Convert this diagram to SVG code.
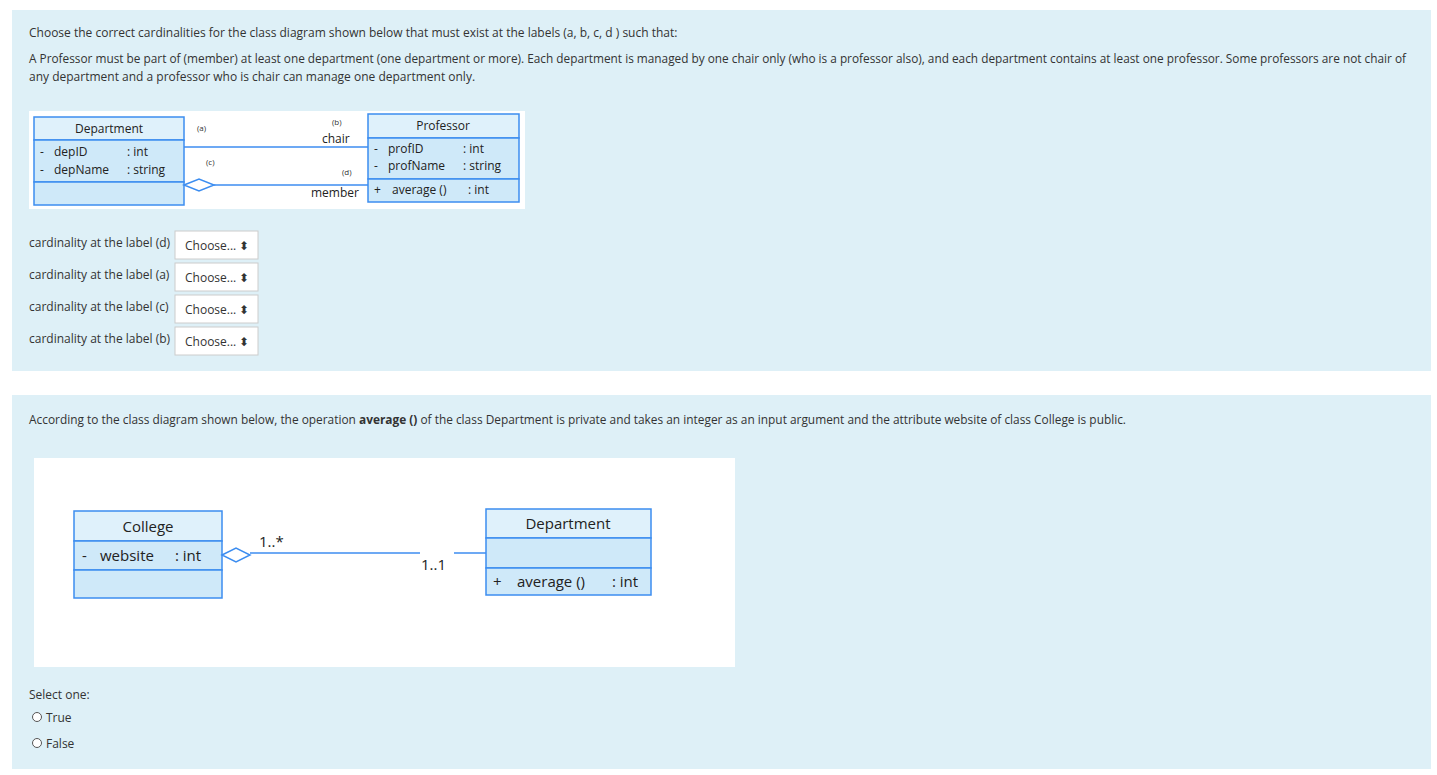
<svg xmlns="http://www.w3.org/2000/svg" width="1437" height="775" viewBox="0 0 1437 775">
<style>
text{font-family:"Open Sans","Liberation Sans",sans-serif;fill:#333}
.t{font-size:12px}
.u{font-size:12px;fill:#222}
.s{font-size:8px}
.b{fill:#cfe9f9;stroke:#3c8df0;stroke-width:1.5}
.h{fill:#dff1fb;stroke:#3c8df0;stroke-width:1.5}
.l{stroke:#3c8df0;stroke-width:1.5;fill:none}
.sel{fill:#fff;stroke:#ccc}
.u2{font-size:15px;fill:#222}
</style>
<rect width="1437" height="775" fill="#fff"/>
<rect x="12" y="10" width="1419" height="361" fill="#def0f7"/>
<rect x="12" y="395" width="1419" height="374" fill="#def0f7"/>
<text class="t" x="29" y="37">Choose the correct cardinalities for the class diagram shown below that must exist at the labels (a, b, c, d ) such that:</text>
<text class="t" x="29" y="63" textLength="1377" lengthAdjust="spacingAndGlyphs">A Professor must be part of (member) at least one department (one department or more). Each department is managed by one chair only (who is a professor also), and each department contains at least one professor.  Some professors are not chair of</text>
<text class="t" x="29" y="81">any department and a professor who is chair can manage one department only.</text>
<rect x="29" y="111" width="496" height="98" fill="#fff"/>
<g id="department1">
<rect class="h" x="34" y="117" width="150" height="23"/>
<rect class="b" x="34" y="140" width="150" height="42"/>
<rect class="b" x="34" y="182" width="150" height="23"/>
<text class="u" x="109" y="133" text-anchor="middle">Department</text>
<text class="u" x="40" y="156">-</text><text class="u" x="54" y="156">depID</text><text class="u" x="127" y="156">: int</text>
<text class="u" x="40" y="174">-</text><text class="u" x="54" y="174">depName</text><text class="u" x="127" y="174">: string</text>
</g>
<g id="professor">
<rect class="h" x="368" y="114" width="151" height="24"/>
<rect class="b" x="368" y="138" width="151" height="41"/>
<rect class="b" x="368" y="179" width="151" height="23"/>
<text class="u" x="443" y="130" text-anchor="middle">Professor</text>
<text class="u" x="374" y="153">-</text><text class="u" x="388" y="153">profID</text><text class="u" x="463" y="153">: int</text>
<text class="u" x="374" y="170">-</text><text class="u" x="388" y="170">profName</text><text class="u" x="463" y="170">: string</text>
<text class="u" x="374" y="194">+</text><text class="u" x="392" y="194">average ()</text><text class="u" x="468" y="194">: int</text>
</g>
<g id="connectors1">
<line class="l" x1="184" y1="147" x2="368" y2="147"/>
<path class="l" d="M184,185 L199,179 L214,185 L199,191 Z" fill="#fff"/>
<line class="l" x1="214" y1="185" x2="368" y2="185"/>
<text class="s" x="197" y="131">(a)</text>
<text class="s" x="332" y="125">(b)</text>
<text class="u" x="322" y="143">chair</text>
<text class="s" x="206" y="165">(c)</text>
<text class="s" x="342" y="175">(d)</text>
<text class="u" x="311" y="197">member</text>
</g>
<text class="t" x="29" y="247">cardinality at the label (d)</text>
<text class="t" x="29" y="279">cardinality at the label (a)</text>
<text class="t" x="29" y="311">cardinality at the label (c)</text>
<text class="t" x="29" y="343">cardinality at the label (b)</text>
<g>
<rect class="sel" x="175" y="231" width="83" height="28"/><text class="t" x="185" y="250">Choose... ⬍</text>
<rect class="sel" x="175" y="263" width="83" height="28"/><text class="t" x="185" y="282">Choose... ⬍</text>
<rect class="sel" x="175" y="295" width="83" height="28"/><text class="t" x="185" y="314">Choose... ⬍</text>
<rect class="sel" x="175" y="327" width="83" height="28"/><text class="t" x="185" y="346">Choose... ⬍</text>
</g>
<text class="t" x="29" y="424" textLength="1097" lengthAdjust="spacingAndGlyphs">According to the class diagram shown below, the operation <tspan font-weight="bold">average ()</tspan> of the class Department is private and takes an integer as an input argument and the attribute website of class College is public.</text>
<rect x="34" y="458" width="701" height="209" fill="#fff"/>
<g id="college">
<rect class="h" x="74" y="511" width="148" height="30"/>
<rect class="b" x="74" y="541" width="148" height="29"/>
<rect class="b" x="74" y="570" width="148" height="28"/>
<text class="u2" x="148" y="532" text-anchor="middle">College</text>
<text class="u2" x="82" y="561">-</text><text class="u2" x="100" y="561">website</text><text class="u2" x="175" y="561">: int</text>
</g>
<g id="department2">
<rect class="h" x="486" y="509" width="165" height="29"/>
<rect class="b" x="486" y="538" width="165" height="30"/>
<rect class="b" x="486" y="568" width="165" height="27"/>
<text class="u2" x="568" y="529" text-anchor="middle">Department</text>
<text class="u2" x="493" y="587">+</text><text class="u2" x="517" y="587">average ()</text><text class="u2" x="612" y="587">: int</text>
</g>
<g id="connectors2">
<path class="l" d="M222,555 L236,548 L250,555 L236,562 Z" fill="#fff"/>
<line class="l" x1="250" y1="553" x2="420" y2="553"/>
<line class="l" x1="454" y1="553" x2="486" y2="553"/>
<text class="u2" x="259" y="547">1..*</text>
<text class="u2" x="421" y="570">1..1</text>
</g>
<text class="t" x="29" y="699">Select one:</text>
<circle cx="37" cy="717" r="4.5" fill="#fff" stroke="#555"/>
<text class="t" x="46" y="722">True</text>
<circle cx="37" cy="743" r="4.5" fill="#fff" stroke="#555"/>
<text class="t" x="46" y="748">False</text>
</svg>
